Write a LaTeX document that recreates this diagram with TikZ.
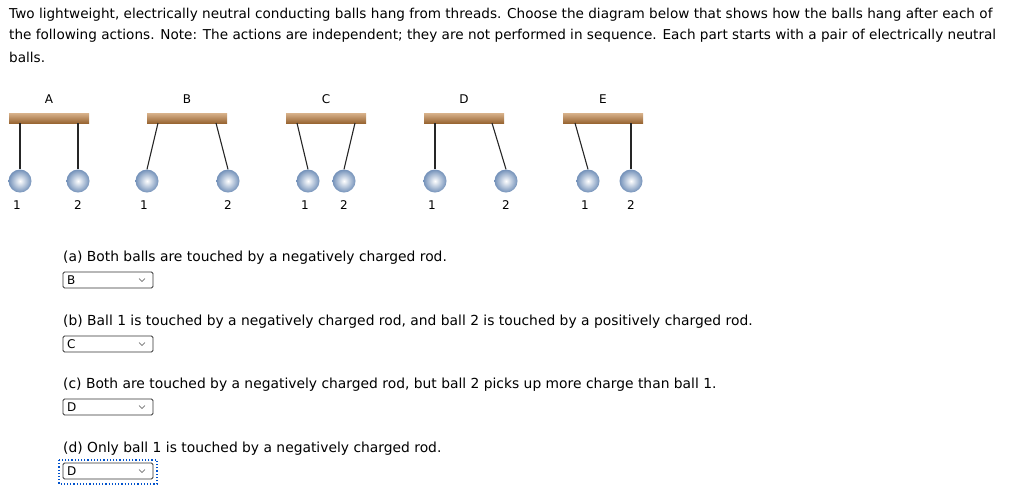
\documentclass[tikz,border=0pt]{standalone}
\usepackage{fontspec}
\setmainfont{DejaVu Sans}
\definecolor{ballc}{RGB}{115,145,185}
\begin{document}
\begin{tikzpicture}[x=1pt,y=-1pt,
 txt/.style={anchor=west,inner sep=0,font=\fontsize{13.6}{15}\selectfont},
 qtxt/.style={anchor=west,inner sep=0,font=\fontsize{13.85}{15}\selectfont},
 lab/.style={inner sep=0,font=\fontsize{12}{13}\selectfont},
 ball/.style={circle,minimum size=23,inner sep=0,shade,inner color=white,outer color=ballc,draw=none},
 str/.style={line width=1.1pt,black!85},
 dd/.style={draw=black!80,line width=0.8pt,rounded corners=1.5,minimum width=90,minimum height=16,inner sep=0}]
\useasboundingbox (0,0) rectangle (1024,499);
\node[txt] (t1) at (9,15) {Two lightweight, electrically neutral conducting balls hang from threads. Choose the diagram below that shows how the balls hang after each of};
\node[txt] (t2) at (9,36) {the following actions. Note: The actions are independent; they are not performed in sequence. Each part starts with a pair of electrically neutral};
\node[txt] (t3) at (9,57) {balls.};
\foreach \n/\bx/\ta/\ba/\tb/\bb in {A/9/20/20/78/78, B/147/158/147/216/228, C/286/297/308/355/344, D/424/435/435/492/506, E/563/575/588/631/631}{
 \shade[top color=brown!60!white,bottom color=brown!80!black] (\bx,113) rectangle ++(80,10);
 \node[lab] (l\n) at (\bx+40,99) {\n};
 \node[ball] (b1\n) at (\ba,181) {};
 \node[ball] (b2\n) at (\bb,181) {};
 \coordinate (p1\n) at (\ta,123);
 \coordinate (p2\n) at (\tb,123);
 \draw[str] (p1\n) -- (b1\n.north);
 \draw[str] (p2\n) -- (b2\n.north);
 \node[lab] at (\ba-3,205) {1};
 \node[lab] at (\bb,205) {2};
}
\foreach \y/\q/\a in {258/{(a) Both balls are touched by a negatively charged rod.}/B,
 322/{(b) Ball 1 is touched by a negatively charged rod, and ball 2 is touched by a positively charged rod.}/C,
 385/{(c) Both are touched by a negatively charged rod, but ball 2 picks up more charge than ball 1.}/D,
 449/{(d) Only ball 1 is touched by a negatively charged rod.}/D}{
 \node[qtxt] at (63,\y) {\q};
 \node[dd] (d\y) at (108,\y+22) {};
 \node[lab,anchor=west] at (67,\y+22) {\a};
 \draw[black!70] (139,\y+20.5) -- (142,\y+23.5) -- (145,\y+20.5);
}
\draw[blue!60!cyan!80!black,dotted,line width=1.2pt] (59,460) rectangle (157,484);
\end{tikzpicture}
\end{document}
